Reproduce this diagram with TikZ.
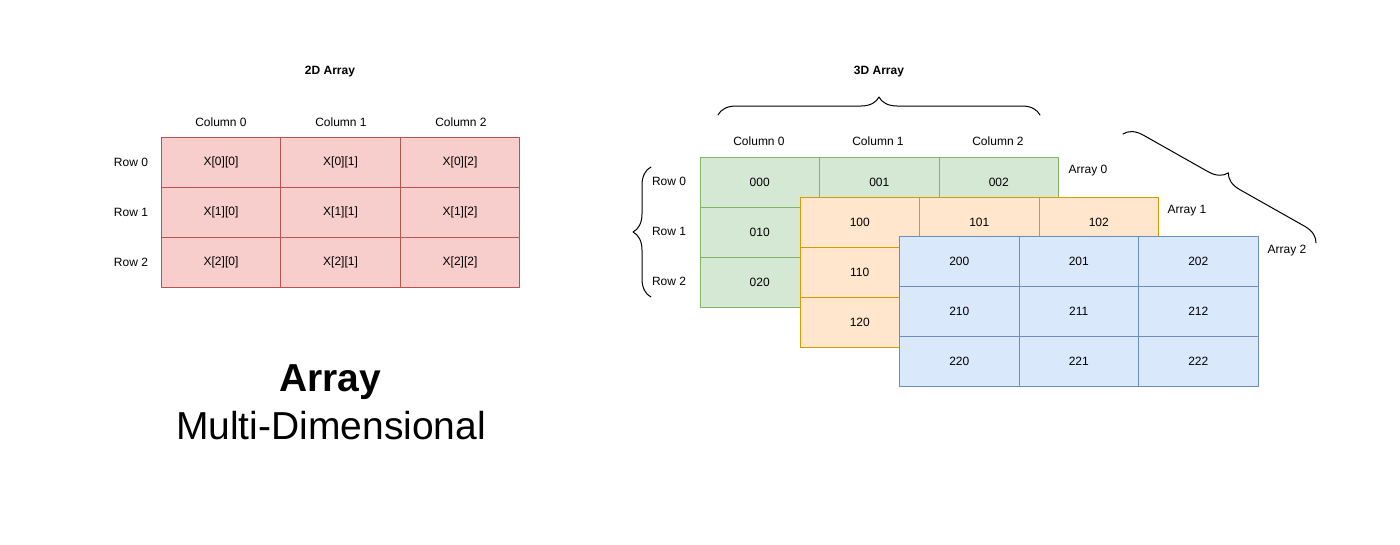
\documentclass[tikz,border=0pt]{standalone}
\usepackage{fontspec}
\setmainfont{Liberation Sans}
\usepackage[usenames]{xcolor}
\usepackage{tikz}
\usetikzlibrary{decorations.pathreplacing}

\definecolor{redfill}{HTML}{F8CECC}
\definecolor{redline}{HTML}{B85450}
\definecolor{greenfill}{HTML}{D5E8D4}
\definecolor{greenline}{HTML}{82B366}
\definecolor{orangefill}{HTML}{FFE6CC}
\definecolor{orangeline}{HTML}{D79B00}
\definecolor{bluefill}{HTML}{DAE8FC}
\definecolor{blueline}{HTML}{6C8EBF}

\begin{document}
\begin{tikzpicture}[line cap=round,line join=round,x=1pt,y=-1pt,
  every node/.style={font=\fontsize{12}{14}\selectfont},
  cell/.style={rectangle,draw,line width=0.9pt,minimum width=119.5pt,minimum height=50pt,inner sep=0pt,outer sep=0pt},
  redcell/.style={cell,fill=redfill,draw=redline},
  greencell/.style={cell,fill=greenfill,draw=greenline},
  orangecell/.style={cell,fill=orangefill,draw=orangeline},
  bluecell/.style={cell,fill=bluefill,draw=blueline},
  heading/.style={font=\fontsize{12}{14}\selectfont\bfseries},
  bracket/.style={decorate,decoration={brace,amplitude=18pt},line width=1pt}]
\fill[white] (0,0) rectangle (1400,544);
\useasboundingbox (0,0) rectangle (1400,544);
% 2D array
\node[heading] (title2d) at (330,72) {2D Array};
\node (c2d0) at (221,122) {Column 0};
\node (c2d1) at (341,122) {Column 1};
\node (c2d2) at (461,122) {Column 2};
\node (r2d0) at (131,162) {Row 0};
\node (r2d1) at (131,212) {Row 1};
\node (r2d2) at (131,262) {Row 2};
\node[redcell] (x00) at (221,162) {X[0][0]};
\node[redcell] (x01) at (340.5,162) {X[0][1]};
\node[redcell] (x02) at (460,162) {X[0][2]};
\node[redcell] (x10) at (221,212) {X[1][0]};
\node[redcell] (x11) at (340.5,212) {X[1][1]};
\node[redcell] (x12) at (460,212) {X[1][2]};
\node[redcell] (x20) at (221,262) {X[2][0]};
\node[redcell] (x21) at (340.5,262) {X[2][1]};
\node[redcell] (x22) at (460,262) {X[2][2]};
% caption
\node[font=\fontsize{39}{47}\selectfont\bfseries,anchor=base] (capA) at (330,391) {Array};
\node[font=\fontsize{39}{47}\selectfont,anchor=base] (capB) at (331,439.5) {Multi-Dimensional};
% 3D array
\node[heading] (title3d) at (879,72) {3D Array};
\node (c3d0) at (759,141) {Column 0};
\node (c3d1) at (878,141) {Column 1};
\node (c3d2) at (998,141) {Column 2};
\node (r3d0) at (669,181) {Row 0};
\node (r3d1) at (669,231) {Row 1};
\node (r3d2) at (669,281) {Row 2};
% array 0
\node[greencell] (g00) at (759.75,182) {000};
\node[greencell] (g01) at (879.25,182) {001};
\node[greencell] (g02) at (998.75,182) {002};
\node[greencell] (g10) at (759.75,232) {010};
\node[greencell] (g11) at (879.25,232) {};
\node[greencell] (g12) at (998.75,232) {};
\node[greencell] (g20) at (759.75,282) {020};
\node[greencell] (g21) at (879.25,282) {};
\node[greencell] (g22) at (998.75,282) {};
% array 1
\node[orangecell] (o00) at (859.75,222) {100};
\node[orangecell] (o01) at (979.25,222) {101};
\node[orangecell] (o02) at (1098.75,222) {102};
\node[orangecell] (o10) at (859.75,272) {110};
\node[orangecell] (o11) at (979.25,272) {};
\node[orangecell] (o12) at (1098.75,272) {};
\node[orangecell] (o20) at (859.75,322) {120};
\node[orangecell] (o21) at (979.25,322) {};
\node[orangecell] (o22) at (1098.75,322) {};
% array 2
\node[bluecell] (b00) at (959.25,261.5) {200};
\node[bluecell] (b01) at (1078.75,261.5) {201};
\node[bluecell] (b02) at (1198.25,261.5) {202};
\node[bluecell] (b10) at (959.25,311.5) {210};
\node[bluecell] (b11) at (1078.75,311.5) {211};
\node[bluecell] (b12) at (1198.25,311.5) {212};
\node[bluecell] (b20) at (959.25,361.5) {220};
\node[bluecell] (b21) at (1078.75,361.5) {221};
\node[bluecell] (b22) at (1198.25,361.5) {222};
\node (arr0) at (1088,171) {Array 0};
\node (arr1) at (1187,211) {Array 1};
\node (arr2) at (1287,251) {Array 2};
% braces
\coordinate (colL) at (718,115);
\coordinate (colR) at (1040,115);
\coordinate (rowB) at (651,297);
\coordinate (rowT) at (651,167);
\coordinate (arrT) at (1123,134);
\coordinate (arrB) at (1316,243);
\draw[bracket] (colL) -- (colR);
\draw[bracket] (rowB) -- (rowT);
\draw[bracket] (arrT) -- (arrB);
\end{tikzpicture}
\end{document}
